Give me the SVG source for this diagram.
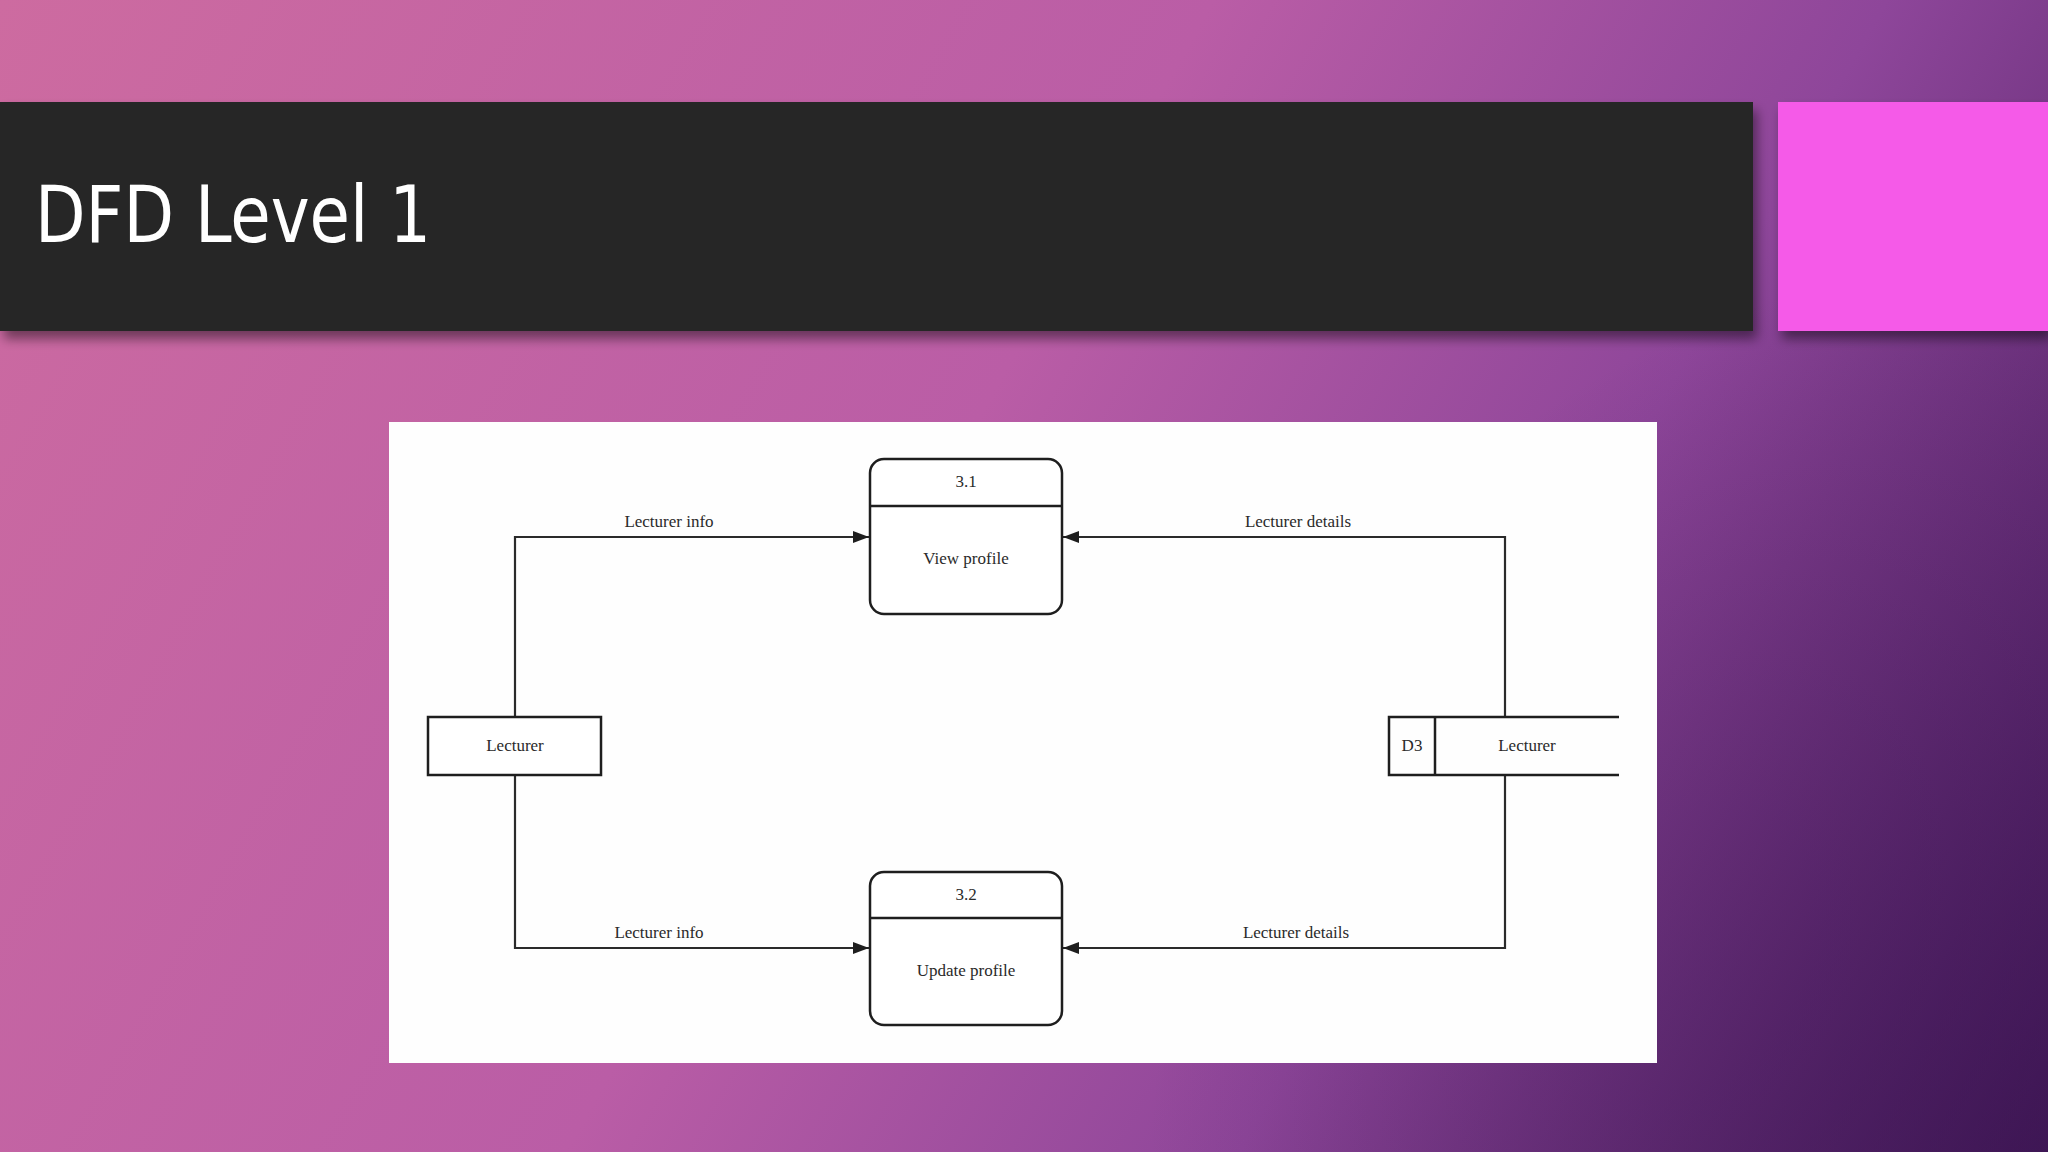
<svg xmlns="http://www.w3.org/2000/svg" width="2048" height="1152" viewBox="0 0 2048 1152">
  <defs>
    <linearGradient id="bg" gradientUnits="userSpaceOnUse" x1="0" y1="0" x2="2048" y2="1152">
      <stop offset="0" stop-color="#CD6BA0"/>
      <stop offset="0.45" stop-color="#BA5DA6"/>
      <stop offset="0.7" stop-color="#8E469A"/>
      <stop offset="1" stop-color="#43195A"/>
    </linearGradient>
    <radialGradient id="dark" gradientUnits="userSpaceOnUse" cx="2048" cy="1152" r="900">
      <stop offset="0" stop-color="#3A1450" stop-opacity="0.55"/>
      <stop offset="1" stop-color="#3A1450" stop-opacity="0"/>
    </radialGradient>
    <filter id="shadow" x="-5%" y="-10%" width="110%" height="130%">
      <feGaussianBlur in="SourceAlpha" stdDeviation="6"/>
      <feOffset dx="4" dy="8" result="b"/>
      <feComponentTransfer><feFuncA type="linear" slope="0.45"/></feComponentTransfer>
      <feMerge><feMergeNode/><feMergeNode in="SourceGraphic"/></feMerge>
    </filter>
    <marker id="arrow" viewBox="0 0 16 12" refX="16" refY="6" markerWidth="16" markerHeight="12" markerUnits="userSpaceOnUse" orient="auto">
      <path d="M0,0 L16,6 L0,12 Z" fill="#1E1E1E"/>
    </marker>
    <style>
      .node { fill: #FFFFFF; stroke: #1E1E1E; stroke-width: 2.5; }
      .div { stroke: #1E1E1E; stroke-width: 2.5; fill: none; }
      .flow { fill: none; stroke: #2A2A2A; stroke-width: 2.2; marker-end: url(#arrow); }
      .t { font-family: "Liberation Serif", "Times New Roman", serif; font-size: 17px; fill: #2A2A2A; text-anchor: middle; }
      .title { font-family: "DejaVu Sans", sans-serif; font-stretch: condensed; font-size: 78px; fill: #FFFFFF; }
    </style>
  </defs>

  <rect x="0" y="0" width="2048" height="1152" fill="url(#bg)"/>
  <rect x="0" y="0" width="2048" height="1152" fill="url(#dark)"/>

  <g id="title-bar">
    <rect x="0" y="102" width="1753" height="229" fill="#272528" filter="url(#shadow)"/>
    <text class="title" x="35" y="242" textLength="396" lengthAdjust="spacingAndGlyphs">DFD Level 1</text>
  </g>
  <g id="accent">
    <rect x="1778" y="102" width="270" height="229" fill="#F55AE8" filter="url(#shadow)"/>
  </g>

  <g id="panel">
    <rect x="389" y="422" width="1268" height="641" fill="#FEFEFE"/>
  </g>

  <g id="connectors">
    <path class="flow" d="M515 717 V537 H869"/>
    <path class="flow" d="M515 775 V948 H869"/>
    <path class="flow" d="M1505 717 V537 H1063"/>
    <path class="flow" d="M1505 775 V948 H1063"/>
    <text class="t" x="669" y="527">Lecturer info</text>
    <text class="t" x="659" y="938">Lecturer info</text>
    <text class="t" x="1298" y="527">Lecturer details</text>
    <text class="t" x="1296" y="938">Lecturer details</text>
  </g>

  <g id="process-3-1">
    <rect class="node" x="870" y="459" width="192" height="155" rx="14" ry="14"/>
    <line class="div" x1="870" y1="506" x2="1062" y2="506"/>
    <text class="t" x="966" y="487">3.1</text>
    <text class="t" x="966" y="564">View profile</text>
  </g>

  <g id="process-3-2">
    <rect class="node" x="870" y="872" width="192" height="153" rx="14" ry="14"/>
    <line class="div" x1="870" y1="918" x2="1062" y2="918"/>
    <text class="t" x="966" y="900">3.2</text>
    <text class="t" x="966" y="976">Update profile</text>
  </g>

  <g id="lecturer-entity">
    <rect class="node" x="428" y="717" width="173" height="58"/>
    <text class="t" x="515" y="751">Lecturer</text>
  </g>

  <g id="d3-store">
    <path class="div" d="M1619 717 H1389 V775 H1619"/>
    <line class="div" x1="1435" y1="717" x2="1435" y2="775"/>
    <text class="t" x="1412" y="751">D3</text>
    <text class="t" x="1527" y="751">Lecturer</text>
  </g>
</svg>
